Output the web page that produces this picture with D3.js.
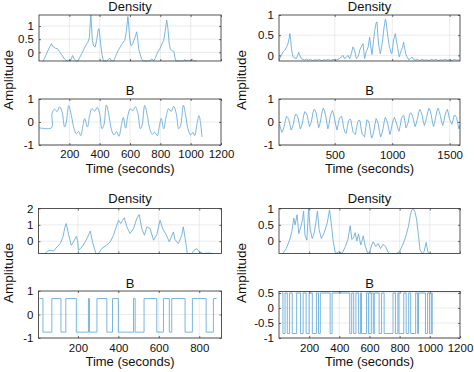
<!DOCTYPE html>
<html lang="en">
<head>
<meta charset="utf-8">
<title>Density and B</title>
<script src="https://cdn.jsdelivr.net/npm/d3@7"></script>
<style>
  body { margin: 0; background: #fff; }
  svg { font-family: "Liberation Sans", Arial, sans-serif; }
</style>
</head>
<body>
<script>
// ---- data: [time (s), amplitude] ----
var densityTL = [[28,-0.33],[45,-0.12],[60,0.08],[72,0.22],[82,0.33],[90,0.22],[100,0.2],[110,0.15],[122,0.14],[135,0.03],[150,-0.1],[168,-0.25],[185,-0.33],[208,-0.31],[222,-0.12],[232,-0.26],[245,-0.33],[258,-0.33],[268,-0.2],[282,-0.05],[296,0.12],[310,0.28],[322,0.38],[332,0.55],[338,1.1],[342,1.42],[346,1.02],[352,0.45],[360,0.25],[370,0.2],[380,0.45],[390,0.85],[396,0.9],[402,0.55],[409,0.2],[416,-0.1],[425,-0.33],[445,-0.33],[458,-0.28],[468,-0.22],[478,-0.33],[492,-0.33],[505,-0.15],[520,0.05],[535,0.2],[550,0.33],[565,0.45],[576,0.8],[586,1.36],[592,1.0],[598,0.55],[606,0.25],[616,0.3],[626,0.45],[636,0.62],[644,0.78],[651,0.5],[658,0.1],[666,-0.05],[676,-0.25],[688,-0.33],[730,-0.33],[745,-0.25],[756,-0.33],[768,-0.2],[782,0.0],[798,0.15],[810,0.32],[822,0.45],[832,0.8],[842,1.23],[850,0.9],[858,0.35],[866,0.12],[874,0.08],[882,0.05],[890,0.03],[896,-0.2],[904,-0.33],[955,-0.33],[962,-0.27],[970,-0.33],[985,-0.3],[995,-0.33],[1010,-0.26],[1020,-0.33],[1040,-0.33]];

var bTL = [[0,-0.25],[82,-0.25],[86,0.37],[103,0.56],[119,0.45],[136,0.66],[152,0.44],[169,-0.22],[180,0.0],[196,0.71],[213,0.29],[231,-0.29],[246,-0.51],[261,-0.41],[275,-0.59],[290,-0.15],[301,0.15],[319,-0.22],[334,0.29],[349,0.58],[367,0.47],[384,0.64],[400,0.37],[415,-0.29],[428,-0.13],[444,0.74],[459,0.37],[477,-0.31],[494,-0.56],[512,-0.42],[527,-0.62],[543,-0.15],[556,0.2],[571,-0.27],[587,0.31],[602,0.56],[620,0.49],[635,0.66],[653,0.35],[668,-0.29],[679,-0.17],[697,0.72],[714,0.29],[730,-0.29],[747,-0.54],[763,-0.44],[780,-0.6],[795,-0.12],[806,0.15],[822,-0.3],[839,0.27],[855,0.58],[872,0.46],[888,0.68],[905,0.37],[921,-0.29],[934,-0.15],[952,0.73],[967,0.29],[982,-0.3],[1000,-0.56],[1015,-0.45],[1026,-0.59],[1042,-0.07],[1055,0.28],[1066,-0.1],[1075,-0.65]];

var densityTR = [[15,-0.13],[25,-0.05],[35,0.0],[50,0.08],[64,0.12],[80,0.2],[93,0.29],[103,0.42],[110,0.54],[116,0.4],[122,0.21],[130,0.05],[138,-0.04],[150,-0.06],[165,-0.08],[178,0.0],[186,0.08],[195,0.0],[209,-0.08],[225,-0.1],[240,-0.12],[255,-0.09],[270,-0.12],[290,-0.1],[305,-0.13],[325,-0.11],[345,-0.12],[365,-0.1],[385,-0.13],[405,-0.11],[425,-0.12],[445,-0.1],[465,-0.13],[485,-0.1],[505,-0.12],[528,-0.1],[545,-0.07],[557,-0.04],[572,0.0],[586,-0.08],[600,-0.05],[615,0.0],[630,-0.08],[645,0.05],[659,0.21],[673,0.12],[688,-0.08],[705,-0.02],[720,0.15],[731,0.21],[746,0.29],[760,-0.08],[775,0.1],[790,0.2],[804,0.45],[812,0.25],[824,0.02],[835,0.3],[848,0.62],[860,0.8],[868,0.83],[875,0.5],[882,0.28],[890,0.12],[897,0.04],[907,0.2],[917,0.38],[925,0.6],[934,0.79],[941,0.9],[946,0.85],[952,0.7],[963,0.45],[973,0.25],[983,0.15],[990,0.05],[998,0.05],[1012,0.38],[1020,0.45],[1027,0.54],[1037,0.35],[1047,0.21],[1055,0.05],[1062,-0.04],[1070,0.05],[1079,0.12],[1090,0.2],[1099,0.33],[1110,0.15],[1120,0.02],[1132,-0.05],[1143,-0.11],[1158,-0.08],[1172,-0.04],[1185,-0.1],[1200,-0.12],[1220,-0.1],[1240,-0.13],[1260,-0.1],[1280,-0.12],[1300,-0.11],[1320,-0.13],[1340,-0.1],[1360,-0.12],[1380,-0.1],[1400,-0.13],[1420,-0.11],[1440,-0.12],[1460,-0.1],[1480,-0.12],[1500,-0.11],[1520,-0.13],[1540,-0.1],[1560,-0.12],[1580,-0.11]];

var bTR = [[20,-0.1],[30,-0.3],[40,-0.45],[50,-0.35],[60,-0.2],[70,0.05],[80,0.25],[90,0.2],[100,0.1],[110,-0.1],[120,-0.35],[130,-0.25],[140,-0.1],[150,0.2],[160,0.35],[170,0.3],[180,0.2],[190,-0.05],[200,-0.3],[210,-0.2],[220,0.0],[230,0.3],[240,0.45],[250,0.4],[260,0.3],[270,0.05],[280,-0.2],[290,-0.1],[300,0.1],[310,0.4],[320,0.55],[330,0.5],[340,0.35],[350,0.05],[360,-0.25],[370,-0.1],[380,0.15],[390,0.45],[400,0.6],[410,0.5],[420,0.3],[430,0.0],[440,-0.3],[450,-0.1],[460,0.2],[470,0.4],[480,0.5],[490,0.35],[500,0.1],[510,-0.15],[520,-0.35],[530,-0.1],[540,0.15],[550,0.22],[560,0.25],[570,0.0],[580,-0.3],[590,-0.45],[600,-0.5],[610,-0.2],[620,0.05],[630,0.12],[640,0.1],[650,-0.2],[660,-0.45],[670,-0.5],[680,-0.55],[690,-0.25],[700,0.0],[710,0.08],[720,0.05],[730,-0.3],[740,-0.55],[750,-0.6],[760,-0.65],[770,-0.25],[780,0.1],[790,0.05],[800,-0.05],[810,-0.4],[820,-0.7],[830,-0.6],[840,-0.4],[850,-0.1],[860,0.15],[870,0.05],[880,-0.1],[890,-0.45],[900,-0.65],[910,-0.5],[920,-0.3],[930,0.0],[940,0.2],[950,0.1],[960,-0.05],[970,-0.3],[980,-0.55],[990,-0.35],[1000,-0.1],[1010,0.1],[1020,0.2],[1030,0.05],[1040,-0.1],[1050,-0.3],[1060,-0.4],[1070,-0.15],[1080,0.15],[1090,0.25],[1100,0.3],[1110,0.05],[1120,-0.25],[1130,-0.15],[1140,0.0],[1150,0.3],[1160,0.4],[1170,0.35],[1180,0.2],[1190,0.0],[1200,-0.2],[1210,-0.05],[1220,0.15],[1230,0.4],[1240,0.55],[1250,0.45],[1260,0.3],[1270,0.05],[1280,-0.15],[1290,0.0],[1300,0.2],[1310,0.45],[1320,0.6],[1330,0.5],[1340,0.3],[1350,0.0],[1360,-0.2],[1370,0.0],[1380,0.25],[1390,0.5],[1400,0.6],[1410,0.45],[1420,0.25],[1430,0.0],[1440,-0.15],[1450,0.05],[1460,0.3],[1470,0.45],[1480,0.55],[1490,0.35],[1500,0.1],[1510,0.0],[1520,-0.1],[1530,0.1],[1540,0.3],[1550,0.28],[1560,0.2],[1570,-0.05],[1580,-0.3],[1590,-0.15]];

var densityBL = [[38,-0.75],[50,-0.6],[63,-0.55],[80,-0.6],[96,-0.35],[113,-0.14],[126,0.26],[134,0.77],[142,1.08],[154,0.4],[167,-0.25],[178,-0.04],[192,0.3],[198,0.05],[203,-0.55],[220,-0.35],[236,-0.04],[248,0.26],[261,0.62],[274,-0.14],[289,-0.75],[302,-0.75],[318,-0.45],[340,-0.25],[360,-0.04],[376,0.37],[392,0.98],[401,1.28],[412,1.08],[420,1.25],[429,1.43],[442,0.88],[458,0.47],[475,0.77],[491,1.39],[503,1.63],[516,0.77],[529,0.37],[541,0.88],[557,0.77],[574,0.06],[590,0.4],[606,1.28],[620,0.75],[636,0.4],[652,-0.04],[672,0.57],[680,0.1],[697,-0.14],[713,0.35],[721,0.88],[730,0.2],[741,-0.75],[763,-0.75],[774,-0.55],[787,-0.45],[800,-0.65],[820,-0.75],[845,-0.72],[870,-0.75]];

// square waves: [switch time, level held until next switch]
var bBL = [[10,0.68],[27,-0.75],[71,0.68],[116,-0.75],[140,0.68],[192,-0.75],[252,0.68],[257,-0.75],[294,0.68],[343,-0.75],[371,0.68],[400,-0.75],[475,0.68],[483,-0.75],[527,0.68],[590,-0.75],[623,0.68],[652,-0.75],[664,0.68],[730,-0.75],[766,0.68],[834,-0.75],[870,0.68],[886,0.68]];

var densityBR = [[26,-0.38],[48,-0.23],[70,0.03],[85,0.29],[98,0.71],[107,0.5],[120,0.81],[131,0.23],[146,0.45],[157,0.7],[163,0.92],[172,0.19],[185,0.03],[196,1.0],[207,0.35],[220,0.08],[233,0.24],[244,0.56],[255,0.92],[266,0.35],[281,0.08],[298,0.24],[320,0.56],[335,0.96],[346,0.56],[359,0.0],[374,-0.38],[396,-0.33],[418,-0.38],[440,-0.17],[457,0.05],[472,0.47],[483,0.05],[494,0.1],[505,0.26],[516,0.0],[527,0.22],[542,-0.12],[559,0.16],[570,-0.12],[588,-0.38],[603,-0.33],[614,-0.12],[625,-0.02],[642,-0.17],[657,-0.07],[673,-0.23],[690,-0.1],[707,-0.17],[722,-0.33],[733,-0.38],[777,-0.38],[798,-0.33],[820,-0.12],[842,0.16],[859,0.47],[870,0.78],[879,0.94],[890,1.0],[901,0.9],[912,0.68],[925,0.16],[935,-0.27],[950,-0.38],[961,-0.33],[976,-0.04],[987,-0.33],[994,-0.38]];

var bBR = [[20,0.5],[26,-0.85],[40,0.5],[55,-0.85],[70,0.5],[88,-0.85],[117,0.5],[143,-0.85],[160,0.5],[180,-0.85],[200,0.5],[221,-0.85],[248,0.5],[262,-0.85],[274,0.5],[339,-0.85],[352,0.5],[469,-0.85],[482,0.5],[495,-0.85],[510,0.5],[528,-0.85],[541,0.5],[547,-0.85],[580,0.5],[593,-0.85],[612,0.5],[625,-0.85],[632,0.5],[664,-0.85],[680,0.5],[697,-0.85],[756,0.5],[772,-0.85],[788,0.5],[795,-0.85],[827,0.5],[843,-0.85],[860,0.5],[873,-0.85],[906,0.5],[919,-0.85],[925,0.5],[971,-0.85],[985,0.5],[998,-0.85],[1010,0.5],[1016,-0.85],[1020,-0.85]];

// ---- ticks ----
var ticks1200 = [200, 400, 600, 800, 1000, 1200];
var ticks1500 = [500, 1000, 1500];
var ticks800 = [200, 400, 600, 800];
var yTicksHalf = [0, 0.5, 1];
var yTicksTwo = [0, 1, 2];
var yTicksB = [-1, 0, 1];
var yTicksBR = [-1, -0.5, 0, 0.5];

var lineColor = "#6aaedc";

var panels = [
  { left: 39, right: 221, top: 15, bottom: 61, xd: [0, 1200], yd: [-0.33, 1.42], xt: ticks1200, yt: yTicksHalf, data: densityTL, title: "Density", titleY: 10.5 },
  { left: 39, right: 221, top: 99, bottom: 145, xd: [0, 1200], yd: [-1, 1], xt: ticks1200, yt: yTicksB, data: bTL, smooth: true, title: "B", titleY: 95, labels: true, pad: 5, xlabelY: 173 },
  { left: 279, right: 460, top: 15, bottom: 61, xd: [15, 1590], yd: [-0.14, 1], xt: ticks1500, yt: yTicksHalf, data: densityTR, title: "Density", titleY: 10.5 },
  { left: 279, right: 460, top: 99, bottom: 145, xd: [15, 1590], yd: [-1, 1], xt: ticks1500, yt: yTicksB, data: bTR, title: "B", titleY: 95, labels: true, pad: 5.5, xlabelY: 173 },
  { left: 38.5, right: 221.5, top: 208.5, bottom: 253.5, xd: [5, 910], yd: [-0.75, 2], xt: ticks800, yt: yTicksTwo, data: densityBL, title: "Density", titleY: 202.5 },
  { left: 38.5, right: 221.5, top: 291, bottom: 338, xd: [5, 910], yd: [-1, 1], xt: ticks800, yt: yTicksB, data: bBL, step: true, title: "B", titleY: 288, labels: true, pad: 6, xlabelY: 365.5 },
  { left: 279, right: 460, top: 208.5, bottom: 253.5, xd: [0, 1200], yd: [-0.38, 1], xt: ticks1200, yt: yTicksHalf, data: densityBR, title: "Density", titleY: 202.5 },
  { left: 279, right: 460, top: 291.5, bottom: 338, xd: [0, 1200], yd: [-1, 0.55], xt: ticks1200, yt: yTicksBR, data: bBR, step: true, title: "B", titleY: 288, labels: true, pad: 6, xlabelY: 365.5 }
];

var ylabels = [
  { x: 12.5, y: 80 }, { x: 246, y: 80 },
  { x: 12.5, y: 273 }, { x: 246, y: 273 }
];

var svg = d3.select("body").append("svg")
  .attr("width", 474)
  .attr("height", 372);

panels.forEach(function(p, i) {
  drawPanel(p, i);
});

ylabels.forEach(function(d) {
  svg.append("text")
    .attr("transform", "translate(" + d.x + "," + d.y + ") rotate(-90)")
    .attr("text-anchor", "middle")
    .attr("font-size", 13.5)
    .attr("fill", "#111")
    .text("Amplitude");
});

function drawPanel(p, i) {
  var x = d3.scaleLinear().domain(p.xd).range([p.left, p.right]);
  var y = d3.scaleLinear().domain(p.yd).range([p.bottom, p.top]);
  var g = svg.append("g");

  // grid
  g.selectAll(".gx")
    .data(p.xt.filter(function(d) { return x(d) < p.right - 1; }))
    .enter().append("line")
    .attr("x1", function(d) { return x(d); })
    .attr("x2", function(d) { return x(d); })
    .attr("y1", p.top)
    .attr("y2", p.bottom)
    .attr("stroke", "#e2e2e2")
    .attr("stroke-width", 0.7);
  g.selectAll(".gy")
    .data(p.yt.filter(function(d) { return y(d) > p.top + 1; }))
    .enter().append("line")
    .attr("x1", p.left)
    .attr("x2", p.right)
    .attr("y1", function(d) { return y(d); })
    .attr("y2", function(d) { return y(d); })
    .attr("stroke", "#e2e2e2")
    .attr("stroke-width", 0.7);

  // data
  g.append("clipPath")
    .attr("id", "clip" + i)
    .append("rect")
    .attr("x", p.left)
    .attr("y", p.top - 0.5)
    .attr("width", p.right - p.left)
    .attr("height", p.bottom - p.top + 1);

  var line = d3.line()
    .x(function(d) { return x(d[0]); })
    .y(function(d) { return y(d[1]); });
  if (p.step) line.curve(d3.curveStepAfter);
  else if (p.smooth) line.curve(d3.curveCatmullRom.alpha(0.5));

  g.append("path")
    .datum(p.data)
    .attr("clip-path", "url(#clip" + i + ")")
    .attr("fill", "none")
    .attr("stroke", lineColor)
    .attr("stroke-width", 0.9)
    .attr("d", line);

  // axes (ticks pointing inward)
  var fmt = p.labels ? function(d) { return String(d); } : function() { return ""; };
  var axB = g.append("g")
    .attr("transform", "translate(0," + p.bottom + ")")
    .call(d3.axisBottom(x).tickValues(p.xt).tickSize(-2).tickSizeOuter(0).tickPadding(p.pad || 5).tickFormat(fmt));
  var axT = g.append("g")
    .attr("transform", "translate(0," + p.top + ")")
    .call(d3.axisTop(x).tickValues(p.xt).tickSize(-2).tickSizeOuter(0).tickFormat(""));
  var axL = g.append("g")
    .attr("transform", "translate(" + p.left + ",0)")
    .call(d3.axisLeft(y).tickValues(p.yt).tickSize(-2).tickSizeOuter(0).tickPadding(5).tickFormat(function(d) { return String(d); }));
  var axR = g.append("g")
    .attr("transform", "translate(" + p.right + ",0)")
    .call(d3.axisRight(y).tickValues(p.yt).tickSize(-2).tickSizeOuter(0).tickFormat(""));

  [axB, axT, axL, axR].forEach(function(a) {
    a.select(".domain").remove();
    a.selectAll("line").attr("stroke", "#333").attr("stroke-width", 0.7);
    a.selectAll("text")
      .attr("font-family", "Liberation Sans, Arial, sans-serif")
      .attr("font-size", 11.5)
      .attr("fill", "#111");
  });

  // box
  g.append("rect")
    .attr("x", p.left)
    .attr("y", p.top)
    .attr("width", p.right - p.left)
    .attr("height", p.bottom - p.top)
    .attr("fill", "none")
    .attr("stroke", "#2a2a2a")
    .attr("stroke-width", 0.8);

  g.append("text")
    .attr("x", (p.left + p.right) / 2)
    .attr("y", p.titleY)
    .attr("text-anchor", "middle")
    .attr("font-size", 13)
    .attr("fill", "#111")
    .text(p.title);

  if (p.labels) {
    g.append("text")
      .attr("x", (p.left + p.right) / 2)
      .attr("y", p.xlabelY)
      .attr("text-anchor", "middle")
      .attr("font-size", 13)
      .attr("fill", "#111")
      .text("Time (seconds)");
  }
}
</script>
</body>
</html>
